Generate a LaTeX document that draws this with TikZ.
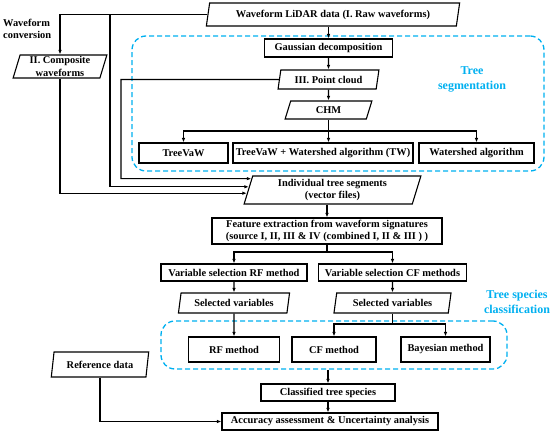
\documentclass[tikz,border=0pt]{standalone}
\usepackage{fontspec}
\setmainfont{Liberation Serif}
\usetikzlibrary{shapes.geometric,arrows.meta,calc}
\definecolor{segblue}{RGB}{0,176,240}
\begin{document}
\begin{tikzpicture}[x=1pt,y=-1pt,
  font=\fontsize{10.4}{12.5}\selectfont\bfseries,
  box/.style 2 args={draw, line width=1.1pt, inner sep=0pt, minimum width=#1, minimum height=#2},
  para/.style 2 args={draw, line width=1.1pt, trapezium, trapezium left angle=75, trapezium right angle=105, trapezium stretches=true, inner sep=0pt, minimum width=#1, minimum height=#2},
  conn/.style={line width=1.05pt, -{Latex[length=4.5pt,width=3.5pt]}},
  plain/.style={line width=1.05pt},
  grp/.style 2 args={draw=segblue, dash pattern=on 5pt off 3pt, line width=1.3pt, rounded corners=14pt, minimum width=#1, minimum height=#2, inner sep=0pt},
  glabel/.style={text=segblue, align=center, font=\fontsize{12}{15}\selectfont\bfseries}
]
\useasboundingbox (0,0) rectangle (550,433);

% group frames
\node[grp={412}{135}] (grp1) at (338,103.5) {};
\node[grp={346}{48}] (grp2) at (334,345) {};
\node[glabel] (seglab) at (472,79.5) {Tree\\segmentation};
\node[glabel] (clslab) at (517,301.5) {Tree species\\classification};

% nodes
\node[para={254}{23}] (raw) at (333,14.5) {Waveform LiDAR data (I. Raw waveforms)};
\node[box={128}{18}] (gauss) at (328.5,48) {Gaussian decomposition};
\node[para={101}{19}] (pc) at (328.5,79.5) {III. Point cloud};
\node[para={87}{18}] (chm) at (328.5,110) {CHM};
\node[box={89}{20}] (tv) at (183.5,153) {TreeVaW};
\node[box={180}{20}] (tw) at (323,153) {TreeVaW + Watershed algorithm (TW)};
\node[box={115}{20}] (ws) at (476.5,153) {Watershed algorithm};
\node[para={94}{23}, align=center] (comp) at (60,66.5) {II. Composite\\waveforms};
\node[align=left, anchor=west, inner sep=0pt] (conv) at (3,29) {Waveform\\conversion};
\node[para={177}{28}, align=center] (its) at (332.5,190) {Individual tree segments\\(vector files)};
\node[box={230}{26}, align=center] (feat) at (327,231) {Feature extraction from waveform signatures\\(source I, II, III \& IV (combined I, II \& III ) )};
\node[box={146}{17}] (vrf) at (234,272.5) {Variable selection RF method};
\node[box={148}{17}] (vcf) at (392.5,272.5) {Variable selection CF methods};
\node[para={112}{20}] (sv1) at (234,303) {Selected variables};
\node[para={118}{20}] (sv2) at (392.5,303) {Selected variables};
\node[box={91}{25}] (rfm) at (234,349.5) {RF method};
\node[box={84}{25}] (cfm) at (334,349.5) {CF method};
\node[box={89}{25}] (bay) at (445.5,349.5) {Bayesian method};
\node[para={98}{25}] (ref) at (100,364.5) {Reference data};
\node[box={134}{17}] (cls) at (328,392.5) {Classified tree species};
\node[box={216}{17}] (acc) at (330,421.5) {Accuracy assessment \& Uncertainty analysis};

% junctions
\coordinate (br1) at (328.5,131);
\coordinate (j1) at (110,14.5);
\coordinate (j2) at (121,79.5);
\coordinate (br2) at (327,252);
\coordinate (br3) at (392.5,324);

% connectors - segmentation
\draw[conn] (gauss.north |- raw.south) -- (gauss.north);
\draw[conn] (gauss) -- (pc);
\draw[conn] (pc) -- (chm);
\draw[plain] (chm) -- (br1);
\draw[conn] (br1) -| (tv.north);
\draw[conn] (br1) -| (ws.north);
\draw[conn] (br1) -- (br1 |- tw.north);

% left feeds
\draw[conn] (raw.west) -| (comp.north);
\draw[conn] (j1) |- ($(its.top left corner)!0.39!(its.bottom left corner)$);
\draw[conn] (comp.south) |- ($(its.top left corner)!0.61!(its.bottom left corner)$);
\draw[conn] (pc.west) -- (j2) |- ($(its.top left corner)!0.11!(its.bottom left corner)$);

% classification
\draw[conn] (feat.north |- its.south) -- (feat.north);
\draw[plain] (feat) -- (br2);
\draw[conn] (br2) -| (vrf.north);
\draw[conn] (br2) -| (vcf.north);
\draw[conn] (vrf) -- (sv1);
\draw[conn] (vcf) -- (sv2);
\draw[conn] (sv1) -- (rfm);
\draw[plain] (sv2) -- (br3);
\draw[conn] (br3) -| (cfm.north);
\draw[conn] (br3) -| (bay.north);
\draw[conn] (cls.north |- grp2.south) -- (cls.north);
\draw[conn] (cls.south) -- (cls.south |- acc.north);
\draw[conn] (ref.south) |- (acc.west);
\end{tikzpicture}
\end{document}
